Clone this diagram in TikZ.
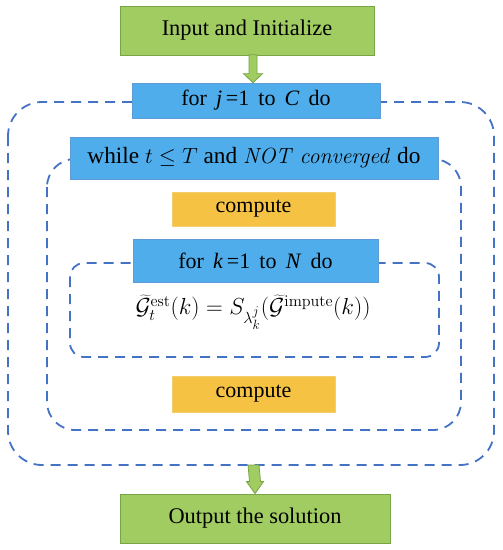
\documentclass[tikz,border=0pt]{standalone}
\usepackage[no-math]{fontspec}
\setmainfont{Liberation Serif}
\usetikzlibrary{calc}
\definecolor{gfill}{RGB}{161,204,98}
\definecolor{gdraw}{RGB}{120,165,72}
\definecolor{bfill}{RGB}{78,173,234}
\definecolor{bdraw}{RGB}{95,155,215}
\definecolor{ofill}{RGB}{246,194,67}
\definecolor{odraw}{RGB}{244,205,110}
\definecolor{dline}{RGB}{68,114,196}
\tikzset{
  gbox/.style={draw=gdraw, line width=0.8pt, fill=gfill, inner sep=0pt, font=\fontsize{22.4}{26}\selectfont},
  bbox/.style={draw=bdraw, line width=0.6pt, fill=bfill, inner sep=0pt, font=\fontsize{22}{26}\selectfont},
  obox/.style={draw=odraw, line width=0.6pt, fill=ofill, inner sep=0pt, font=\fontsize{22}{26}\selectfont},
  dashbox/.style={draw=dline, line width=1.8pt, dash pattern=on 10pt off 7pt},
  barrow/.style={fill=gfill, draw=gdraw, line width=0.8pt},
}
\begin{document}
\begin{tikzpicture}[x=1pt,y=-1pt]
\useasboundingbox (0,0) rectangle (503,550);
% dashed loop frames
\draw[dashbox, rounded corners=34pt] (8,102) rectangle (494,465);
\draw[dashbox, rounded corners=28pt] (47,159) rectangle (461,430);
\draw[dashbox, rounded corners=14pt] (70,263) rectangle (439,357);
% nodes
\node[gbox, minimum width=254pt, minimum height=49pt] (init) at (247,30.5) {Input and Initialize};
\node[bbox, minimum width=248pt, minimum height=35pt] (forj) at (256,100.5) {for \,\textit{j}\,=1\, to \,\textit{C}\, do};
\node[bbox, minimum width=368pt, minimum height=42pt] (while) at (254,158) {\scalebox{1.06}{while $t\leq T$ and $\mathit{NOT}\ \mathit{converged}$ do}};
\node[obox, minimum width=163pt, minimum height=34pt] (comp1) at (253.5,209) {compute};
\node[bbox, minimum width=245pt, minimum height=43pt] (fork) at (255.5,260.5) {for \,\textit{k}\,=1\, to \,\textit{N}\, do};
\node[font=\fontsize{20.74}{25}\selectfont] (formula) at (253,312)
  {\scalebox{1.12}{$\widetilde{\mathcal{G}}^{\mathrm{est}}_t(k)=S_{\lambda^j_k}(\widetilde{\mathcal{G}}^{\mathrm{impute}}(k))$}};
\node[obox, minimum width=163pt, minimum height=36pt] (comp2) at (253.5,394) {compute};
\node[gbox, minimum width=270pt, minimum height=49pt] (out) at (255,518.5) {Output the solution};
\coordinate (loopend) at (253.5,465);
% block arrows
\draw[barrow] ($(forj.north)+(-7,-28)$) -- ($(forj.north)+(1,-28)$) -- ($(forj.north)+(1,-9)$)
  -- ($(forj.north)+(6.5,-9)$) -- ($(forj.north)+(-3,0)$) -- ($(forj.north)+(-12.5,-9)$) -- ($(forj.north)+(-7,-9)$) -- cycle;
\draw[barrow] ($(loopend)+(-5.5,0)$) -- ($(loopend)+(5.5,0)$) -- ($(out.north)+(5.5,-12)$)
  -- ($(out.north)+(8.5,-12)$) -- (out.north) -- ($(out.north)+(-8.5,-12)$) -- ($(out.north)+(-5.5,-12)$) -- cycle;
\end{tikzpicture}
\end{document}
